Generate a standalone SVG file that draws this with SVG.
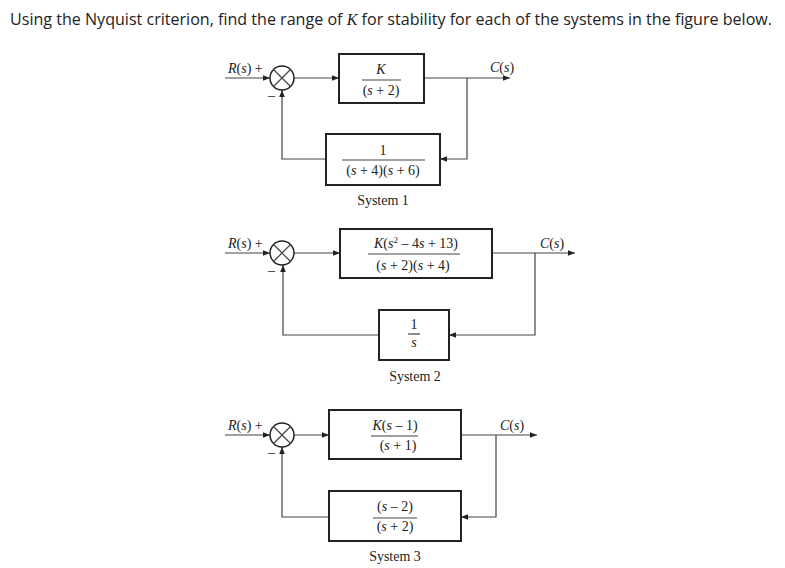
<svg xmlns="http://www.w3.org/2000/svg" width="785" height="568" viewBox="0 0 785 568">
<style>
.t{font-family:"Liberation Serif",serif;font-size:14px;fill:#222}
.c{text-anchor:middle}
i,.i{font-style:italic}
.b{fill:#fff;stroke:#222;stroke-width:2}
.l{fill:none;stroke:#444;stroke-width:1.2}
.s{fill:#fff;stroke:#222;stroke-width:1.5}
</style>
<defs><marker id="a" viewBox="0 0 10 10" refX="10" refY="5" markerWidth="9" markerHeight="7" markerUnits="userSpaceOnUse" orient="auto"><path d="M0,1L10,5L0,9z" fill="#222"/></marker></defs>
<rect width="785" height="568" fill="#fff"/>
<text x="10" y="25" font-family="Open Sans,sans-serif" font-size="16" fill="#222" textLength="762" lengthAdjust="spacingAndGlyphs">Using the Nyquist criterion, find the range of <tspan font-family="Liberation Serif,serif" font-style="italic">K</tspan> for stability for each of the systems in the figure below.</text>
<g id="connectors">
<path class="l" d="M225,78H270" marker-end="url(#a)"/><path class="l" d="M294,78H339" marker-end="url(#a)"/><path class="l" d="M424,78H510" marker-end="url(#a)"/><path class="l" d="M467,78V159H440" marker-end="url(#a)"/><path class="l" d="M326,159H282V90" marker-end="url(#a)"/>
<path class="l" d="M225,253H270" marker-end="url(#a)"/><path class="l" d="M294,253H340" marker-end="url(#a)"/><path class="l" d="M492,253H575" marker-end="url(#a)"/><path class="l" d="M535,253V335H449" marker-end="url(#a)"/><path class="l" d="M379,335H283V265" marker-end="url(#a)"/>
<path class="l" d="M225,435H270" marker-end="url(#a)"/><path class="l" d="M294,435H329" marker-end="url(#a)"/><path class="l" d="M461,435H537" marker-end="url(#a)"/><path class="l" d="M496,435V517H461" marker-end="url(#a)"/><path class="l" d="M329,517H282V447" marker-end="url(#a)"/>
</g>
<g id="sum1"><circle class="s" cx="282" cy="78" r="12"/><path class="l" d="M273.5,69.5L290.5,86.5M290.5,69.5L273.5,86.5"/><text class="t" x="228" y="73"><tspan class="i">R</tspan>(<tspan class="i">s</tspan>) +</text><text class="t" x="268" y="100">–</text></g>
<g id="g1"><rect class="b" x="339" y="54" width="85" height="49"/><text class="t c i" x="381" y="74">K</text><path class="l" d="M362,80H401"/><text class="t c" x="381" y="95">(<tspan class="i">s</tspan> + 2)</text></g>
<g id="h1"><rect class="b" x="326" y="134" width="114" height="51"/><text class="t c" x="383" y="155">1</text><path class="l" d="M342,160H425"/><text class="t c" x="383" y="175">(<tspan class="i">s</tspan> + 4)(<tspan class="i">s</tspan> + 6)</text></g>
<text class="t" x="490" y="72"><tspan class="i">C</tspan>(<tspan class="i">s</tspan>)</text>
<text class="t c" x="383" y="205">System 1</text>
<g id="sum2"><circle class="s" cx="282" cy="253" r="12"/><path class="l" d="M273.5,244.5L290.5,261.5M290.5,244.5L273.5,261.5"/><text class="t" x="228" y="248"><tspan class="i">R</tspan>(<tspan class="i">s</tspan>) +</text><text class="t" x="268" y="275">–</text></g>
<g id="g2"><rect class="b" x="340" y="229" width="152" height="49"/><text class="t c" x="416" y="248"><tspan class="i">K</tspan>(<tspan class="i">s</tspan><tspan font-size="9" dy="-5">2</tspan><tspan dy="5"> – 4</tspan><tspan class="i">s</tspan> + 13)</text><path class="l" d="M368,254H460"/><text class="t c" x="413" y="270">(<tspan class="i">s</tspan> + 2)(<tspan class="i">s</tspan> + 4)</text></g>
<g id="h2"><rect class="b" x="379" y="310" width="70" height="50"/><text class="t c" x="414" y="329">1</text><path class="l" d="M408,334H420"/><text class="t c i" x="414" y="347">s</text></g>
<text class="t" x="540" y="248"><tspan class="i">C</tspan>(<tspan class="i">s</tspan>)</text>
<text class="t c" x="415" y="381">System 2</text>
<g id="sum3"><circle class="s" cx="282" cy="435" r="12"/><path class="l" d="M273.5,426.5L290.5,443.5M290.5,426.5L273.5,443.5"/><text class="t" x="228" y="430"><tspan class="i">R</tspan>(<tspan class="i">s</tspan>) +</text><text class="t" x="268" y="457">–</text></g>
<g id="g3"><rect class="b" x="329" y="410" width="132" height="49"/><text class="t c" x="395" y="430"><tspan class="i">K</tspan>(<tspan class="i">s</tspan> – 1)</text><path class="l" d="M371,436H418"/><text class="t c" x="398" y="450">(<tspan class="i">s</tspan> + 1)</text></g>
<g id="h3"><rect class="b" x="329" y="491" width="132" height="50"/><text class="t c" x="395" y="511">(<tspan class="i">s</tspan> – 2)</text><path class="l" d="M373,518H417"/><text class="t c" x="395" y="531">(<tspan class="i">s</tspan> + 2)</text></g>
<text class="t" x="500" y="430"><tspan class="i">C</tspan>(<tspan class="i">s</tspan>)</text>
<text class="t c" x="395" y="561">System 3</text>
</svg>
